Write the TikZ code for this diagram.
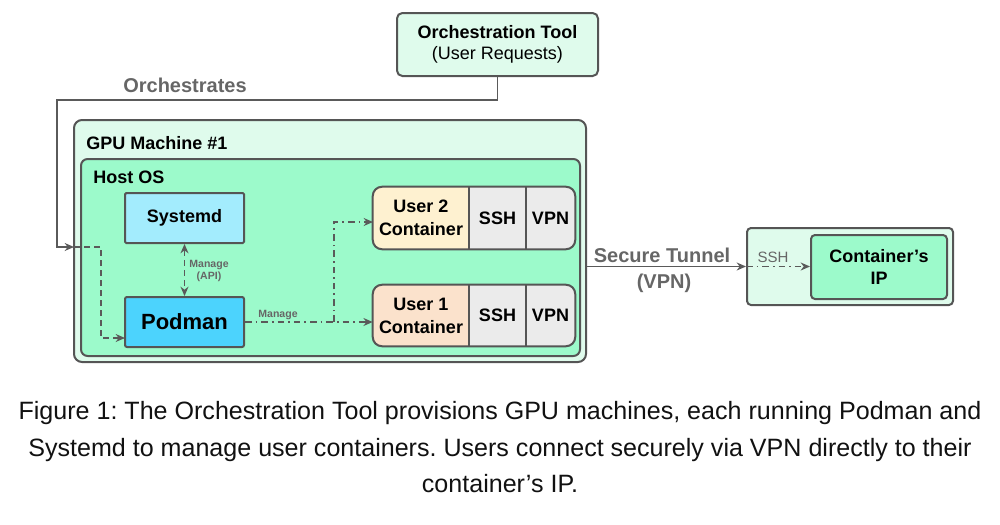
\documentclass[tikz,border=0pt]{standalone}
\usepackage{fontspec}
\setmainfont{Liberation Sans}
\usetikzlibrary{arrows.meta,calc}
\definecolor{bordc}{HTML}{555555}
\definecolor{linec}{HTML}{5A5A5A}
\definecolor{labc}{HTML}{666666}
\definecolor{mintlt}{HTML}{DFFBEC}
\definecolor{mint}{HTML}{9CFACB}
\definecolor{sysc}{HTML}{A3ECFD}
\definecolor{podc}{HTML}{4CD3FD}
\definecolor{utwo}{HTML}{FEF1D0}
\definecolor{uone}{HTML}{FBE2CC}
\definecolor{cellg}{HTML}{EBEBEB}
\definecolor{capc}{HTML}{111111}
\frenchspacing
\begin{document}
\begin{tikzpicture}[x=0.75pt,y=-0.75pt,
  box/.style={draw=bordc, line width=1.5pt, rounded corners=3pt, inner sep=0pt, align=center,
    font=\bfseries\fontsize{13.5}{17.25}\selectfont},
  plain/.style={inner sep=0pt, align=center, font=\bfseries\fontsize{13.5}{17.25}\selectfont},
  conn/.style={draw=linec, line width=1.1pt},
  tip/.style={-{Stealth[length=7pt,width=6pt]}},
  dashdot/.style={dash pattern=on 5pt off 3pt on 1.2pt off 3pt},
  dsh/.style={dash pattern=on 4.5pt off 3pt},
  lbl/.style={text=labc, inner sep=0pt, font=\bfseries\fontsize{15}{18}\selectfont},
  small/.style={text=labc, inner sep=0pt, align=center, font=\bfseries\fontsize{7.9}{9}\selectfont},
  caption/.style={text=capc, inner sep=0pt, anchor=base, font=\fontsize{18.8}{27}\selectfont}
]
\useasboundingbox (0,0) rectangle (1000,525);

% Orchestration tool
\node[box, fill=mintlt, rounded corners=4pt, minimum width=150.75pt, minimum height=47.25pt] (orch) at (497.5,44.5)
  {Orchestration Tool\\[-1pt]\mdseries (User Requests)};

% GPU machine and Host OS
\node[box, fill=mintlt, rounded corners=6pt, minimum width=384pt, minimum height=181.5pt] (gpu) at (330,241) {};
\node[box, fill=mint, rounded corners=5pt, minimum width=374.25pt, minimum height=147.75pt] (host) at (330.5,257.5) {};
\node[plain, anchor=base west] (gpul) at (86,149) {GPU Machine \#1};
\node[plain, anchor=base west] (hostl) at (93,183) {Host OS};

% Systemd and Podman
\node[box, fill=sysc, rounded corners=1pt, minimum width=89.25pt, minimum height=37.5pt] (systemd) at (184.5,218) {Systemd};
\node[box, fill=podc, rounded corners=1.5pt, minimum width=89.25pt, minimum height=37.5pt,
  font=\bfseries\fontsize{16.5}{20}\selectfont] (podman) at (184.5,322) {Podman};

% User 2 container
\node[fill=cellg, rounded corners=7pt, inner sep=0pt, minimum width=151.5pt, minimum height=46.5pt] (c2) at (474,218) {};
\begin{scope}
  \clip (373,180) rectangle (469,260);
  \fill[utwo, rounded corners=7pt] (c2.north west) rectangle (c2.south east);
\end{scope}
\draw[bordc, line width=1.5pt, rounded corners=7pt] (c2.north west) rectangle (c2.south east);
\node[plain, minimum width=72pt, minimum height=46.5pt] (u2) at (421,218) {User 2\\Container};
\node[plain, minimum width=42.75pt, minimum height=46.5pt] (s2) at (497.5,218) {SSH};
\node[plain, minimum width=36.75pt, minimum height=46.5pt] (v2) at (550.5,218) {VPN};
\draw[bordc, line width=1.3pt] (u2.north east) -- (u2.south east);
\draw[bordc, line width=1.3pt] (s2.north east) -- (s2.south east);

% User 1 container
\node[fill=cellg, rounded corners=7pt, inner sep=0pt, minimum width=151.5pt, minimum height=45.75pt] (c1) at (474,315.5) {};
\begin{scope}
  \clip (373,278) rectangle (469,355);
  \fill[uone, rounded corners=7pt] (c1.north west) rectangle (c1.south east);
\end{scope}
\draw[bordc, line width=1.5pt, rounded corners=7pt] (c1.north west) rectangle (c1.south east);
\node[plain, minimum width=72pt, minimum height=45.75pt] (u1) at (421,315.5) {User 1\\Container};
\node[plain, minimum width=42.75pt, minimum height=45.75pt] (s1) at (497.5,315.5) {SSH};
\node[plain, minimum width=36.75pt, minimum height=45.75pt] (v1) at (550.5,315.5) {VPN};
\draw[bordc, line width=1.3pt] (u1.north east) -- (u1.south east);
\draw[bordc, line width=1.3pt] (s1.north east) -- (s1.south east);

% Right side: container's IP
\node[box, fill=mintlt, minimum width=154.5pt, minimum height=57.75pt] (rb) at (850,266.5) {};
\node[box, fill=mint, minimum width=102pt, minimum height=48pt, font=\bfseries\fontsize{13.5}{16.5}\selectfont] (ip) at (879,267) {Container’s\\IP};

% Coordinates
\coordinate (c1bend) at (57,100);
\coordinate (gin) at (74,247);
\coordinate (pin) at (125,338);
\coordinate (br) at (334,322);
\coordinate (u2in) at (373,222);

% Orchestrates connector
\draw[conn, tip] (orch.south) |- (c1bend) |- (gin);
\node[lbl, anchor=base] (orchl) at (185,92) {Orchestrates};
\draw[conn, dsh, tip] (gin) -- ++(27,0) |- (pin);

% Systemd <-> Podman
\draw[conn, dsh, {Stealth[length=7pt,width=6pt]}-{Stealth[length=7pt,width=6pt]}] (systemd.south) -- (podman.north);
\node[small] (mapi) at (209,271) {Manage\\(API)};

% Podman -> containers
\draw[conn, dashdot, tip] (podman.east) -- (podman.east -| u1.west);
\draw[conn, dashdot, tip] (br) |- (u2in);
\node[small, anchor=base] (mgl) at (278,317) {Manage};

% Secure tunnel
\draw[conn, tip] (gpu.east |- rb.west) -- (rb.west);
\node[lbl, anchor=base] (stl) at (662,262) {Secure Tunnel};
\node[lbl, anchor=base] (vpnl) at (664,288) {(VPN)};
\draw[conn, dashdot, tip] (rb.west) -- (ip.west |- rb.west);
\node[text=labc, inner sep=0pt, anchor=base, font=\fontsize{11.25}{13}\selectfont] (sshl) at (773,262) {SSH};

% Caption
\node[caption] (cap1) at (500,419) {Figure 1: The Orchestration Tool provisions GPU machines, each running Podman and};
\node[caption] (cap2) at (500,456) {Systemd to manage user containers. Users connect securely via VPN directly to their};
\node[caption] (cap3) at (500,492) {container’s IP.};
\end{tikzpicture}
\end{document}
